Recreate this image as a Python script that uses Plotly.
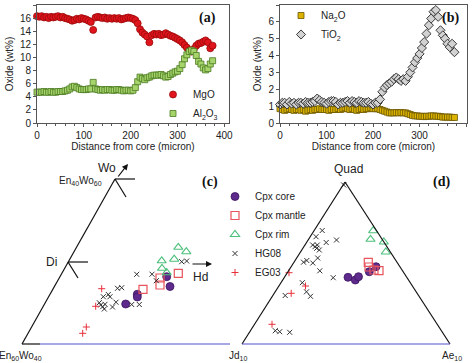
import plotly.graph_objects as go

# ---------------- Panel (a) / (b): traverse data ----------------
distance = [0, 5, 10, 15, 20, 25, 30, 35, 40, 45, 50, 55, 60, 65, 70, 75, 80, 85, 90, 95,
            100, 105, 110, 115, 120, 125, 130, 135, 140, 145, 150, 155, 160, 165, 170, 175,
            180, 185, 190, 195, 200, 205, 210, 215, 220, 225, 230, 235, 240, 245, 250, 255,
            260, 265, 270, 275, 280, 285, 290, 295, 300, 305, 310, 315, 320, 325, 330, 335,
            340, 345, 350, 355, 360, 365, 370, 375]

mgo = [16.3, 16.2, 16.3, 16.1, 16.2, 16.0, 16.2, 16.1, 16.2, 16.3, 16.1, 16.2, 16.0,
       15.9, 15.8, 15.6, 15.7, 15.9, 15.8,
       16.0, 15.9, 15.8, 15.6, 15.4, 14.2,
       16.1, 16.2, 16.1, 16.0, 16.1, 15.9, 16.0, 15.9, 16.0, 15.9, 16.0, 15.8, 15.9, 16.0, 16.1, 16.0, 15.9,
       15.7, 15.2, 14.3, 13.8, 13.5, 13.2, 12.3, 13.4, 13.6, 13.5,
       13.6, 13.4, 13.5, 13.7, 13.5, 13.3, 13.2, 13.0, 12.8, 12.6,
       12.3, 11.9, 11.5, 11.1, 10.9, 11.3, 11.8, 12.1, 12.2, 12.4,
       12.6, 12.3, 11.4, 11.8]

al2o3 = [4.7, 4.7, 4.7, 4.8, 4.7, 4.7, 4.8, 4.7, 4.7, 4.8, 4.8, 4.8, 4.9,
         5.0, 5.2, 5.5, 5.6, 5.4, 5.2,
         5.1, 5.1, 5.1, 5.2, 5.2, 6.2,
         5.2, 5.1, 5.0, 5.1, 5.0, 5.1, 5.1, 5.0, 5.0, 5.1, 5.1, 5.0, 4.9, 5.0, 5.0, 4.9, 5.0,
         5.4, 6.3, 7.0, 6.8, 6.6, 6.9, 7.0, 7.2, 7.3, 7.3,
         7.3, 7.4, 7.2, 7.0, 7.1, 7.4, 7.6, 7.8, 7.9, 8.3,
         8.9, 9.8, 10.4, 10.9, 11.1, 10.9, 10.3, 9.4, 9.0, 8.4,
         8.1, 8.3, 9.0, 9.5]

na2o = [0.85, 0.8, 0.75, 0.8, 0.85, 0.8, 0.75, 0.8, 0.8, 0.75, 0.8, 0.7, 0.75,
        0.8, 0.75, 0.8, 0.8, 0.85, 0.8,
        0.8, 0.8, 0.75, 0.8, 0.8, 0.8,
        0.85, 0.8, 0.85, 0.9, 0.85, 0.8, 0.85, 0.8, 0.75, 0.8, 0.85, 0.8, 0.85, 0.85, 0.9, 0.85, 0.85,
        0.85, 0.8, 0.75, 0.7, 0.65, 0.6, 0.6, 0.6, 0.62, 0.6,
        0.62, 0.6, 0.6, 0.55, 0.5, 0.45, 0.42, 0.42, 0.4, 0.4,
        0.38, 0.4, 0.4, 0.42, 0.42, 0.4, 0.4, 0.38, 0.35, 0.35,
        0.35, 0.35, 0.33, 0.33]

tio2 = [1.1, 1.2, 1.2, 1.1, 1.25, 1.15, 1.2, 1.1, 1.2, 1.2, 1.15, 1.25, 1.2,
        1.2, 1.25, 1.3, 1.45, 1.35, 1.25,
        1.2, 1.15, 1.25, 1.3, 1.3, 1.25,
        1.1, 1.2, 1.2, 1.25, 1.3, 1.2, 1.3, 1.25, 1.2, 1.3, 1.25, 1.2, 1.2, 1.25, 1.15, 1.1, 1.2,
        1.2, 1.4, 1.85, 2.1, 2.25, 2.35, 2.45, 2.6, 2.7, 2.6,
        2.5, 2.6, 2.5, 2.75, 3.0, 3.3, 3.6, 3.85, 4.1, 4.45,
        4.8, 5.3, 5.8, 6.2, 6.6, 6.7, 6.3, 5.5, 5.2, 5.0,
        4.7, 4.5, 4.7, 4.2]

a_xticks = [0, 100, 200, 300, 400]
a_yticks = [0, 2, 4, 6, 8, 10, 12, 14, 16, 18]
b_yticks = [0, 1, 2, 3, 4, 5, 6, 7]

# ---------------- Panel (c): Wo-En-Fs-type diagram (diagram units) ----------------
c_core_x = [144.7, 148.0, 115.3, 115.3, 103.7]
c_core_y = [67.3, 57.5, 49.7, 47.0, 40.0]
c_mantle_x = [138.0, 138.0, 121.0, 156.3]
c_mantle_y = [66.0, 59.0, 54.7, 70.7]
c_rim_x = [156.3, 164.3, 152.2, 139.7, 140.0, 144.7]
c_rim_y = [96.7, 92.3, 84.8, 83.2, 75.7, 71.3]
c_hg08_x = [114.7, 130.0, 134.3, 159.7, 164.7, 95.5, 99.7, 81.3, 86.3, 88.0, 77.3, 78.7,
            80.7, 83.0, 82.3, 90.5, 94.0, 109.7, 117.3]
c_hg08_y = [69.7, 69.8, 63.3, 82.3, 83.0, 55.7, 56.3, 47.3, 49.5, 47.3, 41.3, 39.0,
            37.3, 39.7, 35.0, 37.0, 41.8, 39.5, 39.5]
c_eg03_x = [79.7, 73.7, 64.3, 60.7]
c_eg03_y = [55.3, 37.7, 17.0, 10.7]

# ---------------- Panel (d): Quad-Jd-Ae diagram (diagram units) ----------------
d_core_x = [106.0, 113.3, 116.5, 127.3, 134.0]
d_core_y = [66.7, 64.0, 67.3, 72.3, 77.3]
d_mantle_x = [126.3, 127.0, 132.0, 137.0]
d_mantle_y = [81.7, 77.0, 74.0, 73.3]
d_rim_x = [131.2, 128.5, 141.8, 143.8]
d_rim_y = [113.3, 104.7, 102.0, 92.0]
d_hg08_x = [101.7, 74.0, 80.2, 94.5, 84.2, 70.7, 73.0, 74.7, 77.3, 75.3, 61.5, 64.8, 70.8,
            75.7, 77.8, 91.2, 60.3, 64.5, 68.5, 43.2, 33.3, 37.7, 47.7]
d_hg08_y = [159.0, 107.3, 113.5, 104.0, 101.5, 99.0, 97.3, 95.7, 94.0, 99.0, 81.8, 83.5, 81.0,
            86.0, 73.2, 66.3, 61.3, 52.2, 47.7, 48.5, 13.3, 12.3, 11.7]
d_eg03_x = [47.0, 63.5, 49.2, 30.0]
d_eg03_y = [71.3, 58.0, 50.7, 19.7]

# diagram frame corners (diagram units)
c_apex = (93, 165)
c_di = (46, 82)
c_base_end = 208
d_apex = (103, 162)
d_base_end = 208

# ---------------- styles ----------------
FONT = "Liberation Sans Narrow, Liberation Sans, Arial, sans-serif"
TXT = "#222222"
W, H = 474, 363

def px_x(p):
    return p / W

def px_y(p):
    return 1 - p / H

fig = go.Figure()

# Panel a
fig.add_trace(go.Scatter(x=distance, y=mgo, mode="markers", name="MgO",
                         marker=dict(symbol="circle", size=7, color="#e0141c",
                                     line=dict(color="#9a0a0a", width=0.8)),
                         xaxis="x", yaxis="y", legend="legend", cliponaxis=False))
fig.add_trace(go.Scatter(x=distance, y=al2o3, mode="markers", name="Al<sub>2</sub>O<sub>3</sub>",
                         marker=dict(symbol="square", size=6, color="#a6d46a",
                                     line=dict(color="#4a7a22", width=0.8)),
                         xaxis="x", yaxis="y", legend="legend", cliponaxis=False))
# Panel b
fig.add_trace(go.Scatter(x=distance, y=na2o, mode="markers", name="Na<sub>2</sub>O",
                         marker=dict(symbol="square", size=6, color="#dcb400",
                                     line=dict(color="#6a5600", width=0.8)),
                         xaxis="x2", yaxis="y2", legend="legend2", cliponaxis=False))
fig.add_trace(go.Scatter(x=distance, y=tio2, mode="markers", name="TiO<sub>2</sub>",
                         marker=dict(symbol="diamond", size=7, color="#d2d2d2",
                                     line=dict(color="#3a3a3a", width=1)),
                         xaxis="x2", yaxis="y2", legend="legend2", cliponaxis=False))

# Panels c and d
groups = [
    ("Cpx core", c_core_x, c_core_y, d_core_x, d_core_y,
     dict(symbol="circle", size=8, color="#5e2a8c", line=dict(color="#3c1460", width=0.8))),
    ("Cpx mantle", c_mantle_x, c_mantle_y, d_mantle_x, d_mantle_y,
     dict(symbol="square-open", size=8, color="#e8545c", line=dict(width=1.2))),
    ("Cpx rim", c_rim_x, c_rim_y, d_rim_x, d_rim_y,
     dict(symbol="triangle-up-open", size=8, color="#4cc07c", line=dict(width=1.1))),
    ("HG08", c_hg08_x, c_hg08_y, d_hg08_x, d_hg08_y,
     dict(symbol="x-thin", size=5, color="#333333", line=dict(color="#333333", width=1))),
    ("EG03", c_eg03_x, c_eg03_y, d_eg03_x, d_eg03_y,
     dict(symbol="cross-thin", size=5, color="#e8303a", line=dict(color="#e8303a", width=1))),
]
for name, cx, cy, dx, dy, mk in groups:
    fig.add_trace(go.Scatter(x=cx, y=cy, mode="markers", name=name, marker=mk,
                             xaxis="x3", yaxis="y3", showlegend=False, cliponaxis=False))
    fig.add_trace(go.Scatter(x=dx, y=dy, mode="markers", name=name, marker=mk,
                             xaxis="x4", yaxis="y4", legend="legend3", cliponaxis=False))

# ---------------- frames of diagrams as shapes ----------------
shapes = []
blk = dict(color="#111111", width=1.2)
blue = dict(color="#5050c8", width=1.2)
# panel c
shapes.append(dict(type="line", xref="x3", yref="y3", x0=0, y0=0, x1=c_apex[0], y1=c_apex[1], line=blk))
shapes.append(dict(type="line", xref="x3", yref="y3", x0=18, y0=0, x1=c_base_end, y1=0, line=blue))
shapes.append(dict(type="line", xref="x3", yref="y3", x0=0, y0=0, x1=18, y1=0, line=blk))
shapes.append(dict(type="line", xref="x3", yref="y3", x0=c_apex[0], y0=c_apex[1],
                   x1=c_apex[0] + 20, y1=c_apex[1], line=blk))
shapes.append(dict(type="line", xref="x3", yref="y3", x0=c_apex[0], y0=c_apex[1],
                   x1=c_apex[0] + 11, y1=c_apex[1] - 18, line=blk))
shapes.append(dict(type="line", xref="x3", yref="y3", x0=c_di[0], y0=c_di[1],
                   x1=c_di[0] + 20, y1=c_di[1], line=blk))
shapes.append(dict(type="line", xref="x3", yref="y3", x0=c_di[0], y0=c_di[1],
                   x1=c_di[0] + 10, y1=c_di[1] - 16, line=blk))
# panel d
shapes.append(dict(type="line", xref="x4", yref="y4", x0=0, y0=0, x1=d_apex[0], y1=d_apex[1], line=blk))
shapes.append(dict(type="line", xref="x4", yref="y4", x0=d_apex[0], y0=d_apex[1], x1=d_base_end, y1=0, line=blk))
shapes.append(dict(type="line", xref="x4", yref="y4", x0=0, y0=0, x1=d_base_end, y1=0, line=blue))

# ---------------- annotations ----------------
ann = []
lab = dict(family="Liberation Serif, Times New Roman, serif", size=14, color="#111111")
for t, x, y in [("<b>(a)</b>", 207, 18), ("<b>(b)</b>", 450, 18), ("<b>(c)</b>", 210, 182), ("<b>(d)</b>", 441, 182)]:
    ann.append(dict(text=t, x=px_x(x), y=px_y(y), xref="paper", yref="paper",
                    showarrow=False, font=lab, xanchor="center", yanchor="middle"))

f11 = dict(family=FONT, size=12, color=TXT)
f10 = dict(family=FONT, size=10, color=TXT)
ann += [
    dict(text="Wo", x=85, y=176, xref="x3", yref="y3", showarrow=False, font=f11),
    dict(text="En<sub>40</sub>Wo<sub>60</sub>", x=58, y=163, xref="x3", yref="y3", showarrow=False, font=f10),
    dict(text="Di", x=29, y=82, xref="x3", yref="y3", showarrow=False, font=f11),
    dict(text="Hd", x=178, y=67, xref="x3", yref="y3", showarrow=False, font=f11),
    dict(text="En<sub>60</sub>Wo<sub>40</sub>", x=-2, y=-12, xref="x3", yref="y3", showarrow=False, font=f10),
    dict(text="", x=190, y=80, ax=169, ay=80, xref="x3", yref="y3", axref="x3", ayref="y3",
         showarrow=True, arrowhead=2, arrowsize=1, arrowwidth=1.2, arrowcolor="#111111"),
    dict(text="", x=106, y=180, ax=95, ay=166, xref="x3", yref="y3", axref="x3", ayref="y3",
         showarrow=True, arrowhead=2, arrowsize=1, arrowwidth=1.2, arrowcolor="#111111"),
    dict(text="Quad", x=106, y=175, xref="x4", yref="y4", showarrow=False, font=f11),
    dict(text="Jd<sub>10</sub>", x=-4, y=-12, xref="x4", yref="y4", showarrow=False, font=f10),
    dict(text="Ae<sub>10</sub>", x=210, y=-12, xref="x4", yref="y4", showarrow=False, font=f10),
]

axis_common = dict(showline=True, linecolor="#555555", linewidth=1, mirror=True,
                   ticks="outside", ticklen=3, tickcolor="#555555", showgrid=False, zeroline=False,
                   tickfont=f10, automargin=False)

leg_font = dict(family=FONT, size=10, color=TXT)
fig.update_layout(
    width=W, height=H, margin=dict(l=0, r=0, t=0, b=0, autoexpand=False),
    paper_bgcolor="white", plot_bgcolor="white",
    font=dict(family=FONT, size=10, color=TXT),
    xaxis=dict(domain=[px_x(37), px_x(229)], range=[0, 410], tickvals=a_xticks, anchor="y",
               title=dict(text="Distance from core (micron)", standoff=0, font=f10),
               minor=dict(dtick=20, ticks="outside", ticklen=2, tickcolor="#555555"),
               **axis_common),
    yaxis=dict(domain=[px_y(123), px_y(5)], range=[0, 18], tickvals=a_yticks, anchor="x",
               title=dict(text="Oxide (wt%)", standoff=4, font=f10), **axis_common),
    xaxis2=dict(domain=[px_x(280), px_x(467)], range=[0, 402], tickvals=a_xticks, anchor="y2",
                title=dict(text="Distance from core (micron)", standoff=0, font=f10),
                minor=dict(dtick=20, ticks="outside", ticklen=2, tickcolor="#555555"),
                **axis_common),
    yaxis2=dict(domain=[px_y(123), px_y(5)], range=[0, 7], tickvals=b_yticks, anchor="x2",
                title=dict(text="Oxide (wt%)", standoff=4, font=f10), **axis_common),
    xaxis3=dict(domain=[0, 0.5], range=[-22, 215], visible=False, anchor="y3"),
    yaxis3=dict(domain=[0, px_y(150)], range=[-19, 194], visible=False, anchor="x3"),
    xaxis4=dict(domain=[0.5, 1], range=[-5, 232], visible=False, anchor="y4"),
    yaxis4=dict(domain=[0, px_y(150)], range=[-19, 194], visible=False, anchor="x4"),
    legend=dict(x=px_x(153), y=px_y(80), xanchor="left", yanchor="top", bgcolor="rgba(0,0,0,0)",
                font=leg_font, itemwidth=30, tracegroupgap=0),
    legend2=dict(x=px_x(281), y=px_y(1), xanchor="left", yanchor="top", bgcolor="rgba(0,0,0,0)",
                 font=leg_font, itemwidth=30, tracegroupgap=0),
    legend3=dict(x=px_x(215), y=px_y(182), xanchor="left", yanchor="top", bgcolor="rgba(0,0,0,0)",
                 font=leg_font, itemwidth=30, tracegroupgap=0),
    shapes=shapes, annotations=ann, showlegend=True,
)

# remove the default page margin so the 474x363 figure fills the window exactly
fig.write_html("out.html", config={"displayModeBar": False},
               post_script="document.body.style.margin='0';")
